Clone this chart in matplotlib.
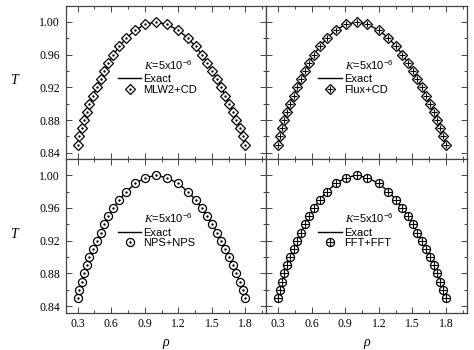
import matplotlib
matplotlib.use("Agg")
import matplotlib.pyplot as plt
from matplotlib.ticker import MultipleLocator
from matplotlib.legend_handler import HandlerTuple

plt.rcParams['mathtext.fontset'] = 'custom'
plt.rcParams['mathtext.it'] = 'Liberation Serif:italic'
plt.rcParams['mathtext.rm'] = 'Liberation Sans'

# density rho and temperature T (same profile in all panels)
rho = [0.30, 0.315, 0.335, 0.355, 0.38, 0.405, 0.44, 0.47, 0.505, 0.54, 0.575,
       0.62, 0.67, 0.735, 0.815, 0.905, 1.00,
       1.095, 1.20, 1.285, 1.355, 1.41, 1.46, 1.505, 1.545, 1.585, 1.62,
       1.655, 1.69, 1.72, 1.75, 1.775, 1.80]
T_exact = [0.85, 0.86, 0.87, 0.88, 0.89, 0.90, 0.91, 0.92, 0.93, 0.94, 0.95,
           0.96, 0.97, 0.98, 0.99, 0.997, 1.00,
           0.997, 0.99, 0.98, 0.97, 0.96, 0.95, 0.94, 0.93, 0.92, 0.91,
           0.90, 0.89, 0.88, 0.87, 0.86, 0.85]
T_mlw2_cd = list(T_exact)
T_flux_cd = list(T_exact)
T_nps_nps = list(T_exact)
T_fft_fft = list(T_exact)

labels = ["MLW2+CD", "Flux+CD", "NPS+NPS", "FFT+FFT"]
series = [T_mlw2_cd, T_flux_cd, T_nps_nps, T_fft_fft]
outer = ['D', 'D', 'o', 'o']
inner = ['.', '+', '.', '+']
outer_ms = [5.6, 5.6, 5.8, 5.8]
inner_ms = [1.8, 5.0, 1.8, 5.8]

xticks = [0.3, 0.6, 0.9, 1.2, 1.5, 1.8]
yticks = [0.84, 0.88, 0.92, 0.96, 1.00]

fig, axes = plt.subplots(2, 2, figsize=(4.74, 3.5), dpi=100, sharex=True, sharey=True)
fig.subplots_adjust(left=0.1386, right=0.985, top=0.983, bottom=0.1066,
                    hspace=0, wspace=0)

serif = 'Liberation Serif'
for i, ax in enumerate(axes.flat):
    line, = ax.plot(rho, T_exact, color='black', lw=1.0, zorder=2)
    o, = ax.plot(rho, series[i], linestyle='none', marker=outer[i], ms=outer_ms[i],
                 mfc='white', mec='black', mew=0.9, zorder=3)
    inn, = ax.plot(rho, series[i], linestyle='none', marker=inner[i], ms=inner_ms[i],
                   color='black', mew=0.8, zorder=4)
    ax.set_xlim(0.193, 1.987)
    ax.set_ylim(0.832, 1.0195)
    ax.xaxis.set_minor_locator(MultipleLocator(0.15))
    ax.yaxis.set_minor_locator(MultipleLocator(0.02))
    ax.set_xticks(xticks)
    ax.set_yticks(yticks)
    ax.tick_params(which='both', direction='in', top=True, right=True,
                   width=0.7, color='#444444')
    ax.tick_params(which='major', length=4, labelsize=8.5, pad=4)
    ax.tick_params(which='minor', length=2)
    ax.set_xticklabels(['%.1f' % v for v in xticks], fontfamily=serif)
    ax.set_yticklabels(['%.2f' % v for v in yticks], fontfamily=serif)
    for s in ax.spines.values():
        s.set_linewidth(0.9)
        s.set_color('#444444')
    ax.text(0.39, 0.615, r'$K$=5x10$^{-6}$', transform=ax.transAxes,
            fontsize=8, family='Liberation Sans', va='center', ha='left')
    ax.legend([line, (o, inn)], ['Exact', labels[i]],
              handler_map={tuple: HandlerTuple(ndivide=1, pad=0)},
              loc='upper left', bbox_to_anchor=(0.26, 0.555),
              frameon=False, borderpad=0, borderaxespad=0,
              handlelength=2.1, handletextpad=0.2, labelspacing=0.05,
              prop={'family': 'Liberation Sans', 'size': 8})

for ax in axes[:, 0]:
    ax.set_ylabel('T', fontfamily=serif, fontstyle='italic', fontsize=10, rotation=0)
    ax.yaxis.set_label_coords(-0.26, 0.47)
for ax in axes[1, :]:
    ax.set_xlabel('ρ', fontfamily=serif, fontstyle='italic', fontsize=10, labelpad=4)

fig.savefig('out.png', dpi=100)
